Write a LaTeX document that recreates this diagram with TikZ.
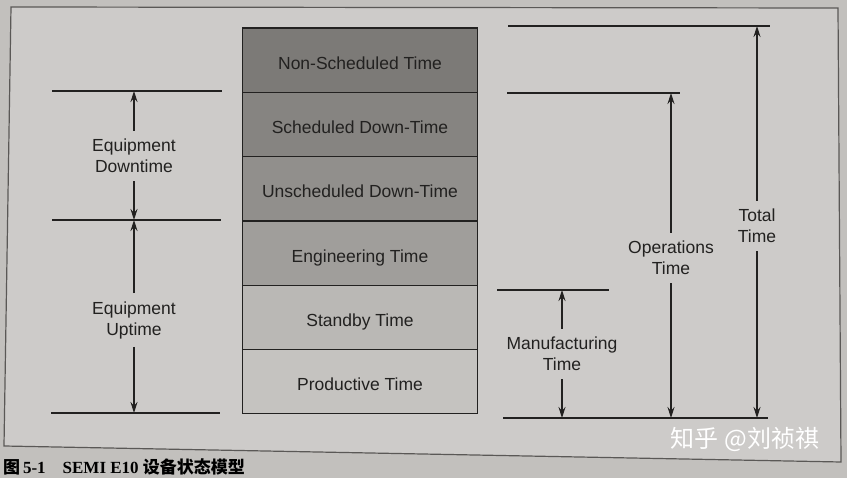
\documentclass[tikz,border=0pt]{standalone}
\usepackage{fontspec}
\setmainfont{Liberation Sans}
\newfontfamily\capserif{Liberation Serif}
\newfontfamily\cjk{Noto Sans CJK SC}
\usetikzlibrary{positioning,arrows.meta}
\definecolor{paper}{HTML}{C2C0BD}
\definecolor{sheet}{HTML}{CDCBC9}
\definecolor{frame}{HTML}{5A5856}
\definecolor{ink}{HTML}{222120}
\definecolor{nsfill}{HTML}{7C7A77}
\definecolor{sdfill}{HTML}{868481}
\definecolor{udfill}{HTML}{918F8C}
\definecolor{enfill}{HTML}{A09E9B}
\definecolor{sbfill}{HTML}{BAB8B5}
\definecolor{prfill}{HTML}{C5C3C0}
\tikzset{
	row/.style={draw=ink,line width=1.3pt,minimum width=235pt,minimum height=64.3pt,inner sep=0pt,outer sep=0pt,text=ink,text height=18pt,text depth=0pt},
	span/.style={draw=ink,line width=1.4pt},
	lbl/.style={align=center,text=ink,inner sep=8pt},
	arr/.style={draw=ink,line width=1.2pt,-{Stealth[length=11pt,width=7pt]}}
}
\begin{document}
\begin{tikzpicture}[x=1pt,y=-1pt,font=\fontsize{17.5}{21}\selectfont]
		\useasboundingbox (0,0) rectangle (847,478);
		\fill[paper] (0,0) rectangle (847,478);
		\filldraw[fill=sheet,draw=frame,line width=1.2pt] (11,7) -- (838,8) -- (841,462) -- (4,446) -- cycle;
		\node[row,fill=nsfill] (nst) at (360,60.2) {Non-Scheduled Time};
		\node[row,fill=sdfill,below=0pt of nst] (sdt) {Scheduled Down-Time};
		\node[row,fill=udfill,below=0pt of sdt] (udt) {Unscheduled Down-Time};
		\node[row,fill=enfill,below=0pt of udt] (ent) {Engineering Time};
		\node[row,fill=sbfill,below=0pt of ent] (sbt) {Standby Time};
		\node[row,fill=prfill,below=0pt of sbt] (prt) {Productive Time};
		\coordinate (eqtop) at (52,91);
		\coordinate (eqmid) at (52,220);
		\coordinate (eqbot) at (51,413);
		\draw[span] (eqtop) -- +(170,0);
		\draw[span] (eqmid) -- +(169,0);
		\draw[span] (eqbot) -- +(169,0);
		\node[lbl] (eqdown) at (134,156) {Equipment\\Downtime};
		\node[lbl] (equp) at (134,320) {Equipment\\Uptime};
		\draw[arr] (eqdown.north) -- (eqdown.north |- eqtop);
		\draw[arr] (eqdown.south) -- (eqdown.south |- eqmid);
		\draw[arr] (equp.north) -- (equp.north |- eqmid);
		\draw[arr] (equp.south) -- (equp.south |- eqbot);
		\coordinate (tttop) at (508,26);
		\coordinate (optop) at (507,93);
		\coordinate (mftop) at (497,290);
		\coordinate (allbot) at (503,418);
		\draw[span] (tttop) -- (770,26);
		\draw[span] (optop) -- (680,93);
		\draw[span] (mftop) -- (609,290);
		\draw[span] (allbot) -- (768,418);
		\node[lbl] (ttl) at (757,226) {Total\\Time};
		\node[lbl] (opl) at (671,258) {Operations\\Time};
		\node[lbl] (mfl) at (562,354) {Manufacturing\\Time};
		\draw[arr] (ttl.north) -- (ttl.north |- tttop);
		\draw[arr] (ttl.south) -- (ttl.south |- allbot);
		\draw[arr] (opl.north) -- (opl.north |- optop);
		\draw[arr] (opl.south) -- (opl.south |- allbot);
		\draw[arr] (mfl.north) -- (mfl.north |- mftop);
		\draw[arr] (mfl.south) -- (mfl.south |- allbot);
		\node[anchor=west,inner sep=0pt,font=\fontsize{17}{17}\selectfont\bfseries] (cap) at (3,467) {\cjk 图\,\capserif 5-1\quad SEMI E10 \cjk 设备状态模型};
		\node[text=white,inner sep=0pt,font=\cjk\fontsize{24}{24}\selectfont] (wm) at (745,439) {知乎 @刘祯祺};
\end{tikzpicture}
\end{document}
